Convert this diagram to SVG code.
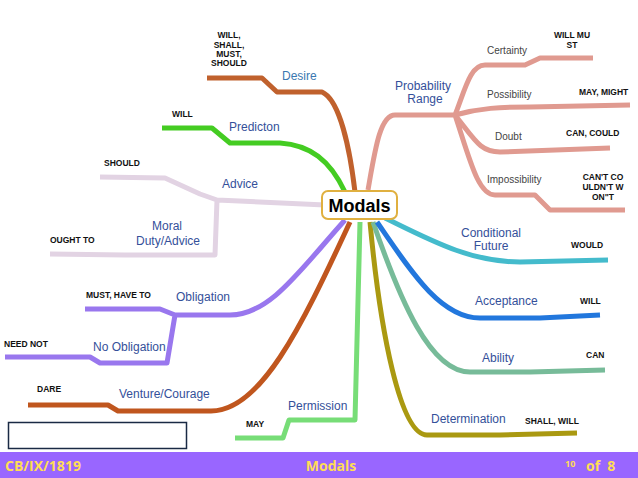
<svg xmlns="http://www.w3.org/2000/svg" width="638" height="478" viewBox="0 0 638 478">
<style>
.c{fill:none;stroke-width:5;stroke-linecap:butt;stroke-linejoin:round}
.t{font-family:"Liberation Sans",Arial,sans-serif;font-size:12px;fill:#34509a}
.s{font-family:"Liberation Sans",Arial,sans-serif;font-size:10px;fill:#444}
.k{font-family:"Liberation Sans",Arial,sans-serif;font-size:8.5px;font-weight:bold;fill:#111}
.f{font-family:"Open Sans","Liberation Sans",sans-serif;font-size:14px;font-weight:bold;fill:#ffdd55}
</style>
<rect width="638" height="478" fill="#fff"/>
<g id="connectors">
<path class="c" stroke="#c0612d" d="M355,192 C350,150 340,100 322,92 L277,92 L262,78 L207,78"/>
<path class="c" stroke="#44cc22" d="M345,192 C330,160 310,145 280,143 L230,143 L212,128 L162,128"/>
<path class="c" stroke="#e2d3e3" d="M325,205 L217,200 L200,194 L165,178 L100,177 M217,200 L215,255 L125,255 L50,254"/>
<path class="c" stroke="#9977ee" d="M345,220 C300,270 270,315 230,315 L175,315 L160,309 L85,309 M175,315 L167,363 L100,363 L90,357 L5,357"/>
<path class="c" stroke="#c0561e" d="M350,222 C300,330 260,411 211,411 L118,411 L108,405 L28,405"/>
<path class="c" stroke="#77dd77" d="M360,222 L355,420 L289,420 L283,438 L235,438"/>
<path class="c" stroke="#aa9911" d="M370,222 C380,330 400,435 427,435 L500,435 L577,433"/>
<path class="c" stroke="#77bb99" d="M373,222 C400,300 430,372 470,372 L530,372 L605,370"/>
<path class="c" stroke="#2277dd" d="M377,222 C410,270 440,318 480,318 L540,318 L600,315"/>
<path class="c" stroke="#44bbcc" d="M385,218 C430,240 470,262 520,262 L608,260"/>
<path class="c" stroke="#e09a90" d="M368,190 C375,150 380,115 395,115 L455,115 M455,115 C465,90 470,65 485,65 L525,65 L540,58 L593,58 M455,115 C480,108 500,107 530,107 L630,105 M455,115 C475,140 480,152 500,152 L610,148 M455,115 C470,160 478,195 495,195 L535,195 L550,210 L625,210"/>
</g>
<g id="modals"><rect x="322" y="191" width="75" height="28" rx="6" fill="#fff" stroke="#e0b040" stroke-width="2"/>
<text x="359.5" y="212" text-anchor="middle" font-family="Liberation Sans,Arial,sans-serif" font-size="18" font-weight="bold">Modals</text></g>
<g id="desire"><text class="t" x="282" y="80" style="fill:#3a78b0">Desire</text><text class="k" x="229" y="38" text-anchor="middle">WILL,</text><text class="k" x="229" y="48" text-anchor="middle">SHALL,</text><text class="k" x="229" y="57" text-anchor="middle">MUST,</text><text class="k" x="229" y="66" text-anchor="middle">SHOULD</text></g>
<g id="prediction"><text class="t" x="229" y="131">Predicton</text><text class="k" x="172" y="117">WILL</text></g>
<g id="advice"><text class="t" x="222" y="188">Advice</text><text class="k" x="104" y="166">SHOULD</text></g>
<g id="moral"><text class="t" x="167" y="230" text-anchor="middle">Moral</text><text class="t" x="168" y="245" text-anchor="middle">Duty/Advice</text><text class="k" x="50" y="243">OUGHT TO</text></g>
<g id="obligation"><text class="t" x="176" y="301">Obligation</text><text class="k" x="86" y="298">MUST, HAVE TO</text></g>
<g id="noobligation"><text class="t" x="93" y="351">No Obligation</text><text class="k" x="4" y="347">NEED NOT</text></g>
<g id="venture"><text class="t" x="119" y="398">Venture/Courage</text><text class="k" x="37" y="392">DARE</text></g>
<g id="permission"><text class="t" x="288" y="410">Permission</text><text class="k" x="246" y="427">MAY</text></g>
<g id="determination"><text class="t" x="431" y="423">Determination</text><text class="k" x="525" y="424">SHALL, WILL</text></g>
<g id="ability"><text class="t" x="482" y="362">Ability</text><text class="k" x="586" y="358">CAN</text></g>
<g id="acceptance"><text class="t" x="475" y="305">Acceptance</text><text class="k" x="580" y="304">WILL</text></g>
<g id="conditional"><text class="t" x="491" y="237" text-anchor="middle">Conditional</text><text class="t" x="491" y="250" text-anchor="middle">Future</text><text class="k" x="571" y="248">WOULD</text></g>
<g id="probability"><text class="t" x="423" y="90" text-anchor="middle">Probability</text><text class="t" x="425" y="103" text-anchor="middle">Range</text></g>
<g id="certainty"><text class="s" x="487" y="54">Certainty</text><text class="k" x="572" y="38" text-anchor="middle">WILL MU</text><text class="k" x="572" y="48" text-anchor="middle">ST</text></g>
<g id="possibility"><text class="s" x="487" y="98">Possibility</text><text class="k" x="579" y="95">MAY, MIGHT</text></g>
<g id="doubt"><text class="s" x="495" y="140">Doubt</text><text class="k" x="566" y="136">CAN, COULD</text></g>
<g id="impossibility"><text class="s" x="487" y="183">Impossibility</text><text class="k" x="603" y="180" text-anchor="middle">CAN'T CO</text><text class="k" x="603" y="190" text-anchor="middle">ULDN'T W</text><text class="k" x="603" y="200" text-anchor="middle">ON"T</text></g>
<rect x="8.5" y="422.5" width="178" height="26" fill="none" stroke="#1a2a44" stroke-width="1.5"/>
<g id="footer"><rect x="0" y="452" width="638" height="26" fill="#9966ff"/>
<text class="f" x="5" y="471">CB/IX/1819</text><text class="f" x="331" y="471" text-anchor="middle">Modals</text><text class="f" x="565" y="467" style="font-size:9px">10</text><text class="f" x="586" y="471" xml:space="preserve">of  8</text></g>
</svg>
